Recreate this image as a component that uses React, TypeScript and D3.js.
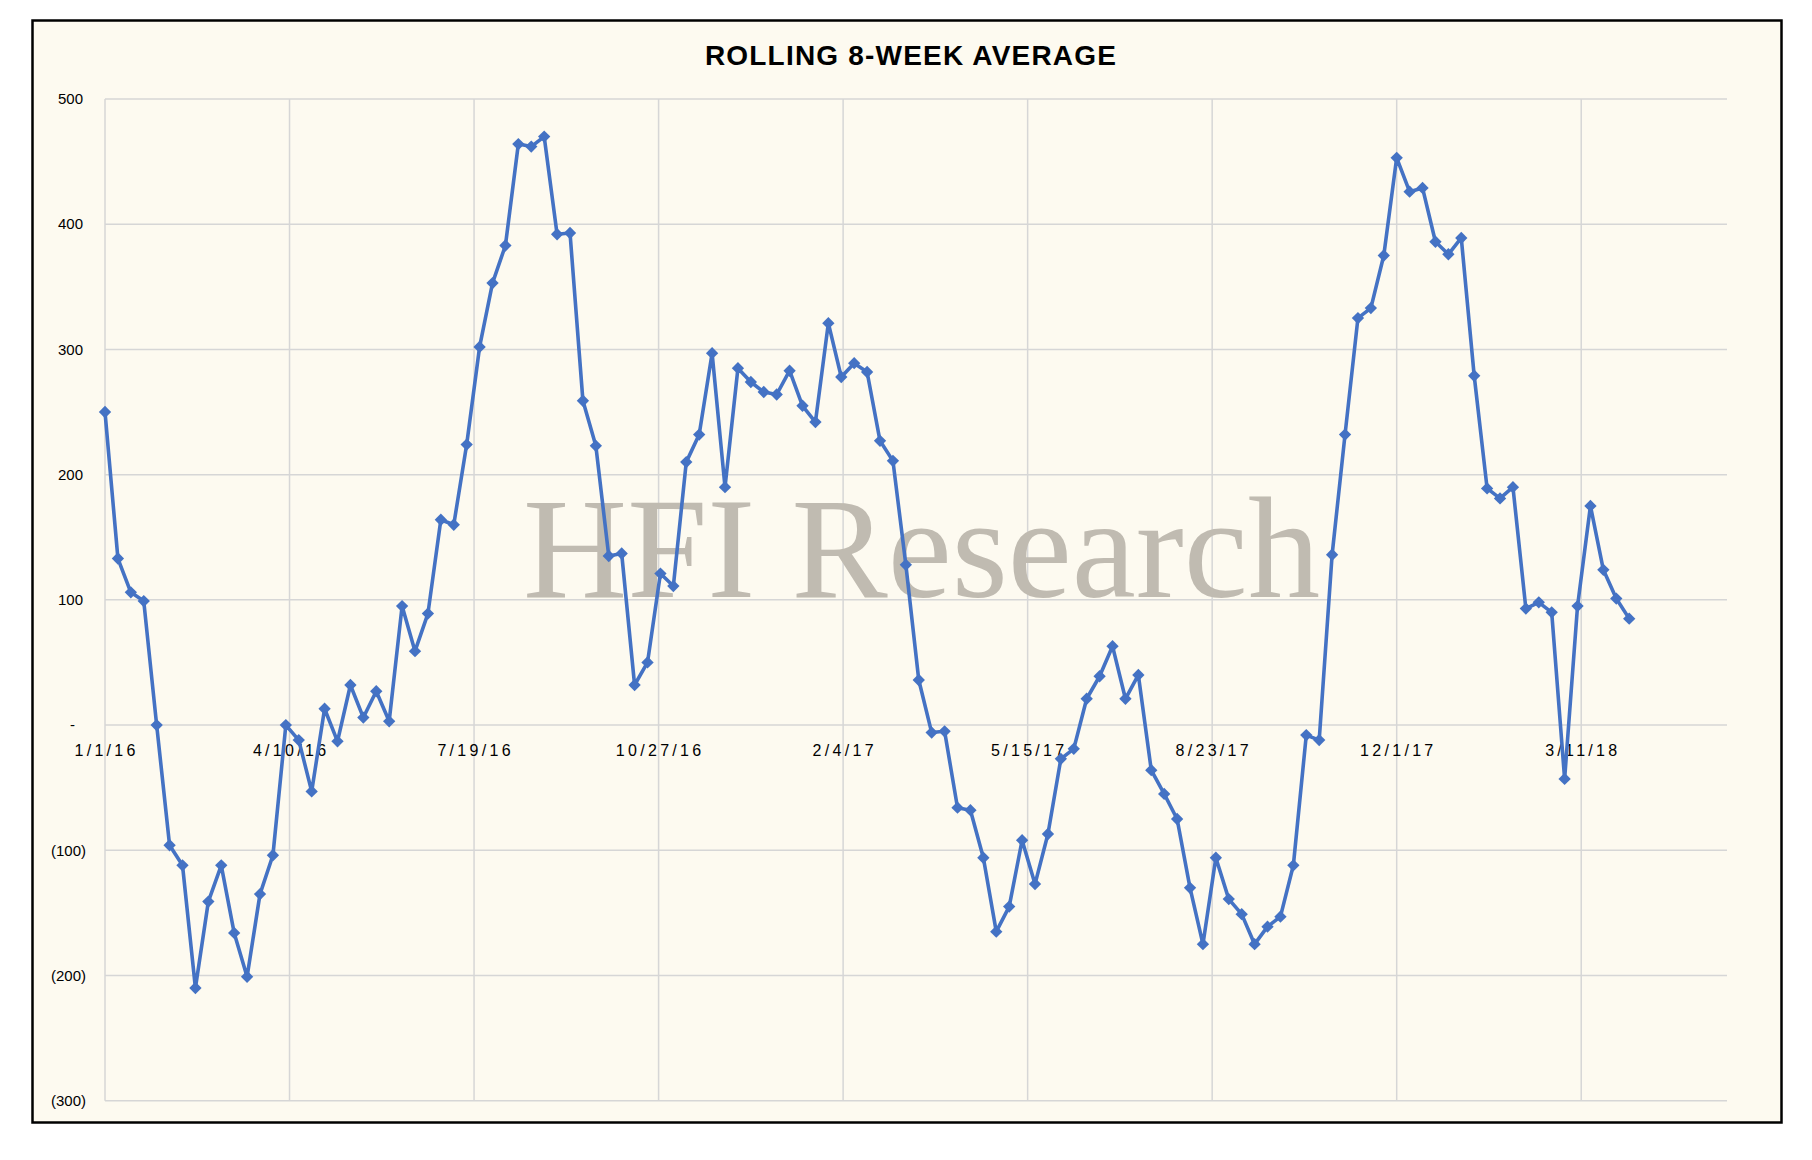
import * as d3 from 'd3'

// weekly values, first week 1/1/16
const startDate = '2016-01-01'
const rollingAvg = [
  250, 133, 106, 99, 0, -96, -112, -210, -141, -112,
  -166, -201, -135, -104, 0, -12, -53, 13, -13, 32,
  6, 27, 3, 95, 59, 89, 164, 160, 224, 302,
  353, 383, 464, 462, 470, 392, 393, 259, 223, 135,
  137, 32, 50, 121, 111, 210, 232, 297, 190, 285,
  274, 266, 264, 283, 255, 242, 321, 278, 289, 282,
  227, 211, 128, 36, -6, -5, -66, -68, -106, -165,
  -145, -92, -127, -87, -27, -19, 21, 39, 63, 21,
  40, -36, -55, -75, -130, -175, -106, -139, -151, -175,
  -161, -153, -112, -8, -12, 136, 232, 325, 333, 375,
  453, 426, 429, 386, 376, 389, 279, 189, 181, 190,
  93, 98, 90, -43, 95, 175, 124, 101, 85,
]

const xTickLabels = ['1/1/16', '4/10/16', '7/19/16', '10/27/16', '2/4/17', '5/15/17', '8/23/17', '12/1/17', '3/11/18']
const yTicks = [500, 400, 300, 200, 100, 0, -100, -200, -300]

const title = 'ROLLING 8-WEEK AVERAGE'
const watermark = 'HFI Research'

const width = 1812
const height = 1160
const plotLeft = 105
const plotRight = 1727
const plotTop = 99
const plotBottom = 1100.7

const parse = d3.utcParse('%m/%d/%y')
const fmtY = (v: number) => (v === 0 ? '-' : v < 0 ? `(${Math.abs(v)})` : `${v}`)

export default function App() {
  const start = d3.utcParse('%Y-%m-%d')(startDate) as Date
  const data = rollingAvg.map((v, i) => ({ date: d3.utcDay.offset(start, i * 7), value: v }))

  // x axis: date axis, 100-day major unit
  const x = d3.scaleUtc([start, d3.utcDay.offset(start, 879)], [plotLeft, plotRight])
  const y = d3.scaleLinear([-300, 500], [plotBottom, plotTop])

  const line = d3
    .line<{ date: Date; value: number }>()
    .x((d) => x(d.date))
    .y((d) => y(d.value))

  const diamond = d3.symbol(d3.symbolSquare, 76)()

  return (
    <svg width={width} height={height} style={{ position: 'absolute', left: 0, top: 0, background: '#fff' }}>
      <rect x={32.5} y={20.5} width={1749} height={1102} fill="#fdfaf0" stroke="#000" strokeWidth={2.5} />

      <text
        x={911}
        y={65}
        textAnchor="middle"
        fontFamily="Liberation Sans, Arial, sans-serif"
        fontWeight="bold"
        fontSize={28}
        letterSpacing={1.2}
        fill="#000"
      >
        {title}
      </text>

      {/* gridlines */}
      <g stroke="#d6d6d6" strokeWidth={1.5}>
        {yTicks.map((t) => (
          <line key={t} x1={plotLeft} x2={plotRight} y1={y(t)} y2={y(t)} />
        ))}
        {xTickLabels.map((l) => (
          <line key={l} x1={x(parse(l)!)} x2={x(parse(l)!)} y1={plotTop} y2={plotBottom} />
        ))}
      </g>

      {/* y labels */}
      <g fontFamily="Liberation Sans, Arial, sans-serif" fontSize={15} fill="#000">
        {yTicks.map((t) => (
          <text
            key={t}
            x={t === 0 ? 72.5 : t < 0 ? 86 : 83}
            y={y(t)}
            dy="0.35em"
            textAnchor={t === 0 ? 'middle' : 'end'}
          >
            {fmtY(t)}
          </text>
        ))}
      </g>

      <text
        x={523}
        y={597}
        fontFamily="Liberation Serif, Times New Roman, serif"
        fontSize={143}
        fill="#c0bbb1"
        textLength={797}
        lengthAdjust="spacingAndGlyphs"
      >
        {watermark}
      </text>

      {/* x labels */}
      <g fontFamily="Liberation Sans, Arial, sans-serif" fontSize={16} letterSpacing={3.3} fill="#000">
        {xTickLabels.map((l) => (
          <text key={l} x={x(parse(l)!) + 1.6} y={755.5} textAnchor="middle">
            {l}
          </text>
        ))}
      </g>

      <path fill="none" stroke="#4472c4" strokeWidth={3.6} strokeLinejoin="round" d={line(data) ?? ''} />
      <g fill="#4472c4">
        {data.map((d, i) => (
          <path key={i} d={diamond ?? ''} transform={`translate(${x(d.date)},${y(d.value)}) rotate(45)`} />
        ))}
      </g>
    </svg>
  )
}
